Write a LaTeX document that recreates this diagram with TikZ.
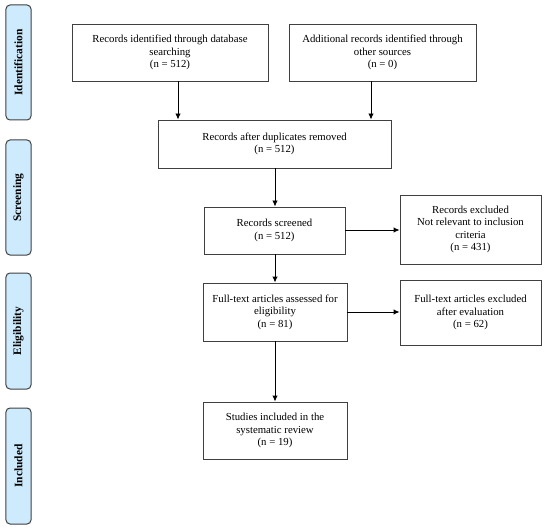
\documentclass[tikz,border=0pt]{standalone}
\usepackage{fontspec}
\setmainfont{Liberation Serif}
\usetikzlibrary{arrows.meta}
\definecolor{phase}{HTML}{CDEBFC}
\definecolor{edge}{HTML}{404040}
\begin{document}
\begin{tikzpicture}[x=1bp,y=-1bp,
  box/.style={draw=edge,line width=0.9bp,align=center,font=\fontsize{10.8}{12.5}\selectfont,inner sep=2bp,anchor=center},
  phasebox/.style={draw=edge,fill=phase,line width=1bp,rounded corners=4bp,minimum width=25bp,rotate=90,font=\fontsize{11.5}{13}\selectfont\bfseries,inner sep=0pt},
  arr/.style={line width=0.9bp,-{Latex[length=6bp,width=5.5bp]}}]
\useasboundingbox (0,0) rectangle (550,529);
% phase labels
\node[phasebox,minimum height=25bp,minimum width=115bp] (p1) at (18.5,62.5) {Identification};
\node[phasebox,minimum height=25bp,minimum width=115bp] (p2) at (18.5,197.5) {Screening};
\node[phasebox,minimum height=25bp,minimum width=116bp] (p3) at (18.5,331) {Eligibility};
\node[phasebox,minimum height=25bp,minimum width=116bp] (p4) at (18.5,466) {Included};
% boxes
\node[box,minimum width=196bp,minimum height=57bp] (id1) at (170,52.5) {Records identified through database\\searching\\(n = 512)};
\node[box,minimum width=187bp,minimum height=57bp] (id2) at (382.5,52.5) {Additional records identified through\\other sources\\(n = 0)};
\node[box,minimum width=233bp,minimum height=48bp] (dup) at (274.5,144) {Records after duplicates removed\\(n = 512)};
\node[box,minimum width=141bp,minimum height=47bp] (scr) at (274.5,230.5) {Records screened\\(n = 512)};
\node[box,minimum width=141bp,minimum height=69bp] (exc1) at (470.5,229.5) {Records excluded\\Not relevant to inclusion\\criteria\\(n = 431)};
\node[box,minimum width=144bp,minimum height=58bp] (full) at (275,312) {Full-text articles assessed for\\eligibility\\(n = 81)};
\node[box,minimum width=141bp,minimum height=65bp] (exc2) at (470.5,312.5) {Full-text articles excluded\\after evaluation\\(n = 62)};
\node[box,minimum width=144bp,minimum height=57bp] (stud) at (275,430.5) {Studies included in the\\systematic review\\(n = 19)};
% arrows
\draw[arr] (id1.south -| 178,0) -- (dup.north -| 178,0);
\draw[arr] (id2.south -| 371,0) -- (dup.north -| 371,0);
\draw[arr] (dup.south -| 275,0) -- (scr.north -| 275,0);
\draw[arr] (scr.east |- 0,230) -- (exc1.west |- 0,230);
\draw[arr] (scr.south -| 275,0) -- (full.north -| 275,0);
\draw[arr] (full.east |- 0,312) -- (exc2.west |- 0,312);
\draw[arr] (full.south -| 275,0) -- (stud.north -| 275,0);
\end{tikzpicture}
\end{document}
